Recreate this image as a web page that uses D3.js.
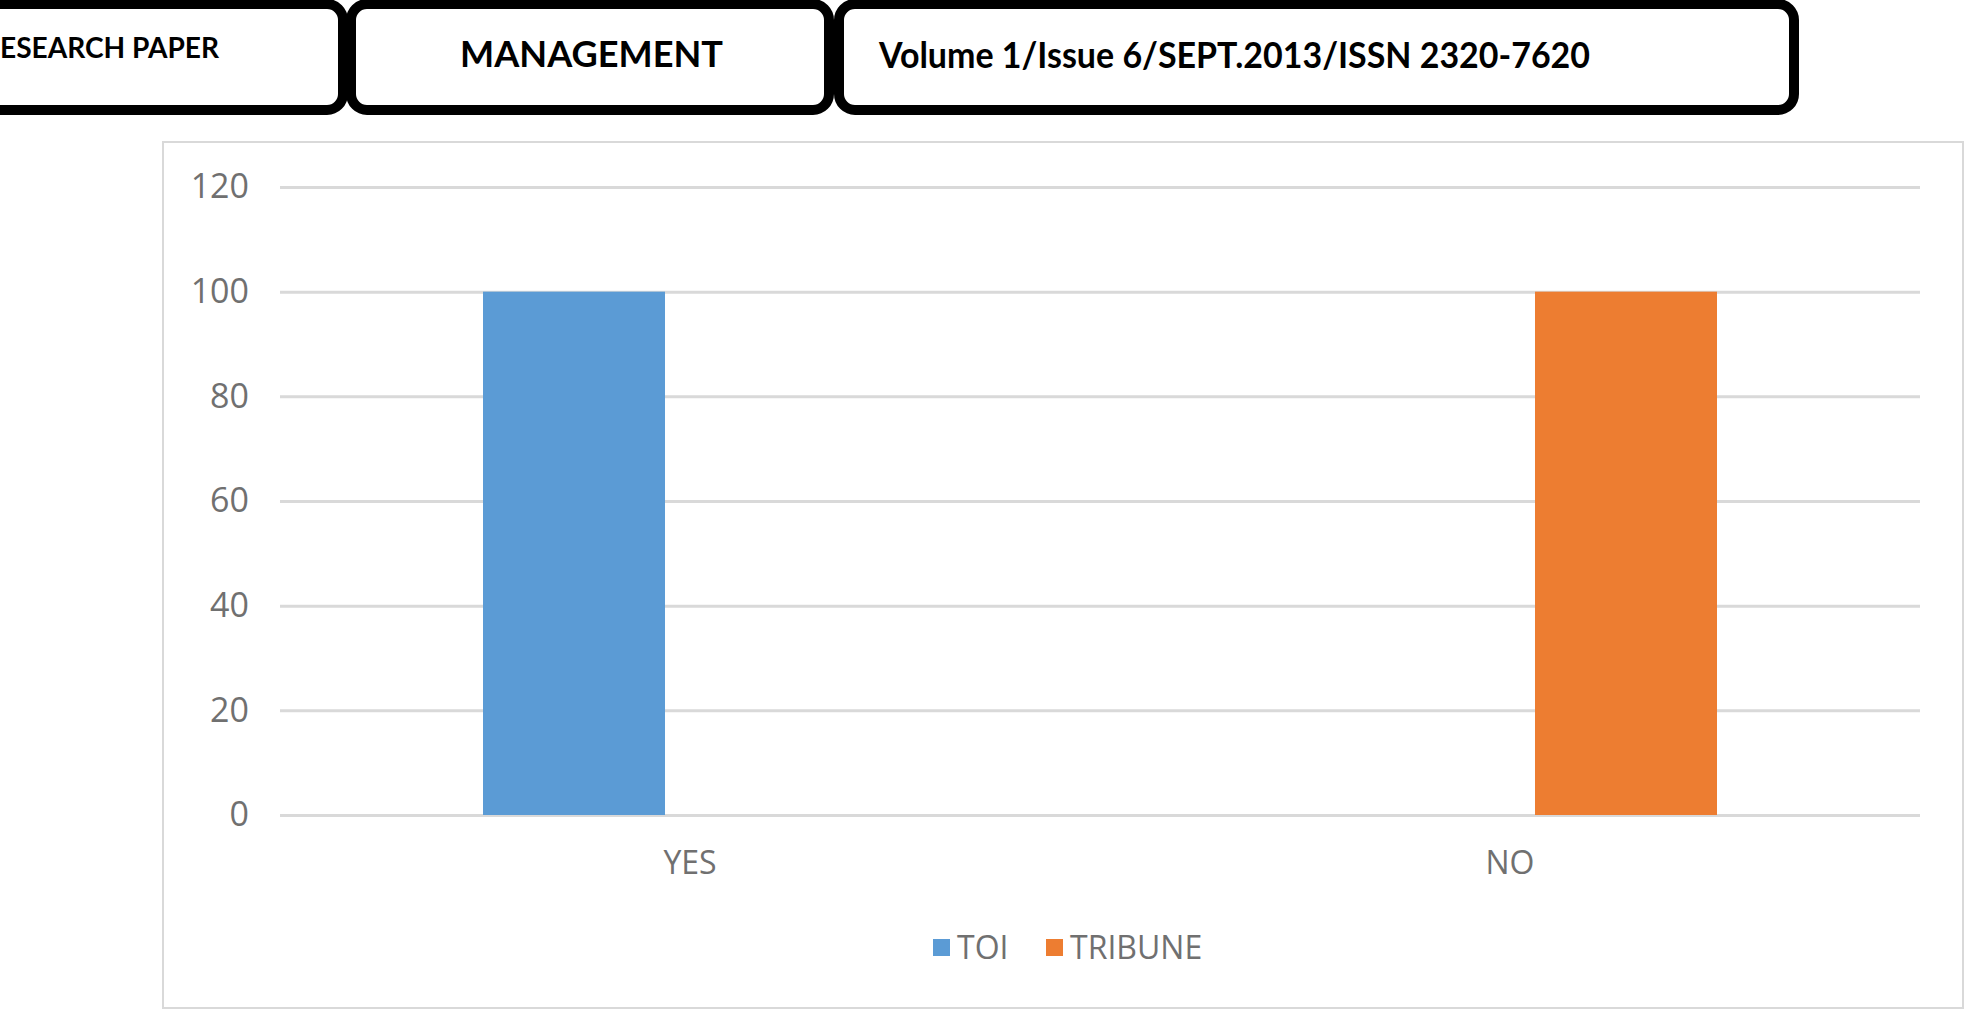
<!DOCTYPE html>
<html>
<head>
<meta charset="utf-8">
<script src="https://cdn.jsdelivr.net/npm/d3@7"></script>
<style>
  html, body { margin: 0; padding: 0; background: #ffffff; }
  svg { display: block; }
</style>
</head>
<body>
<svg id="chart" width="1985" height="1012"></svg>
<script>
// ---- data ----
const categories = ["YES", "NO"];
const seriesNames = ["TOI", "TRIBUNE"];
const toiValues = [100, 0];
const tribuneValues = [0, 100];
const yTicks = [0, 20, 40, 60, 80, 100, 120];
const headerTexts = ["ESEARCH PAPER", "MANAGEMENT", "Volume 1/Issue 6/SEPT.2013/ISSN 2320-7620"];

const colors = { TOI: "#5B9BD5", TRIBUNE: "#ED7D31" };
const seriesValues = { TOI: toiValues, TRIBUNE: tribuneValues };

const svg = d3.select("#chart");

// ---- header boxes ----
const boxes = [
  { x0: -30, x1: 348, text: headerTexts[0], tx: 0, base: 58, size: 28, len: 219 },
  { x0: 346, x1: 834, text: headerTexts[1], tx: 460, base: 67, size: 36, len: 263 },
  { x0: 834, x1: 1799, text: headerTexts[2], tx: 879, base: 68, size: 36, len: 711 }
];
const hb = svg.append("g").attr("class", "header");
boxes.forEach(b => {
  hb.append("rect")
    .attr("x", b.x0 + 5).attr("y", 4)
    .attr("width", b.x1 - b.x0 - 10).attr("height", 106)
    .attr("rx", 16).attr("ry", 16)
    .attr("fill", "#ffffff").attr("stroke", "#000000").attr("stroke-width", 10);
  hb.append("text")
    .attr("x", b.tx).attr("y", b.base)
    .attr("font-family", "Lato, 'Open Sans', sans-serif")
    .attr("font-weight", "bold")
    .attr("font-size", b.size)
    .attr("textLength", b.len)
    .attr("lengthAdjust", "spacingAndGlyphs")
    .attr("fill", "#000000")
    .text(b.text);
});

// ---- chart frame ----
svg.append("rect")
  .attr("x", 163).attr("y", 142)
  .attr("width", 1800).attr("height", 866)
  .attr("fill", "#ffffff").attr("stroke", "#d9d9d9").attr("stroke-width", 2);

const plot = { left: 280, right: 1920, top: 187, bottom: 815 };

const y = d3.scaleLinear().domain([0, 120]).range([plot.bottom, plot.top]);
const x0 = d3.scaleBand().domain(categories).range([plot.left, plot.right]).padding(0);
const x1 = d3.scaleBand().domain(seriesNames).range([0, x0.bandwidth()])
  .paddingInner(0.2155).paddingOuter(0.875);

const font = "'Open Sans', 'Noto Sans', sans-serif";
const textColor = "#707070";

// gridlines
const grid = svg.append("g").attr("class", "grid")
  .attr("transform", `translate(${plot.left},0)`)
  .call(d3.axisLeft(y).tickValues(yTicks).tickSize(-(plot.right - plot.left)).tickFormat(""));
grid.select(".domain").remove();
grid.selectAll(".tick line").attr("stroke", "#d9d9d9").attr("stroke-width", 3);

// y axis labels
const yAxis = svg.append("g").attr("class", "y-axis")
  .attr("transform", `translate(${plot.left},0)`)
  .call(d3.axisLeft(y).tickValues(yTicks).tickSize(0).tickPadding(31));
yAxis.select(".domain").remove();
yAxis.selectAll("text")
  .attr("font-family", font).attr("font-size", 34).attr("fill", textColor);

// bars
const groups = svg.append("g").attr("class", "bars")
  .selectAll("g").data(categories).join("g")
  .attr("transform", d => `translate(${x0(d)},0)`);
groups.selectAll("rect")
  .data((d, i) => seriesNames.map(s => ({ s, v: seriesValues[s][i] })))
  .join("rect")
  .attr("x", d => x1(d.s))
  .attr("width", x1.bandwidth())
  .attr("y", d => y(d.v))
  .attr("height", d => y(0) - y(d.v))
  .attr("fill", d => colors[d.s]);

// x axis labels
const xAxis = svg.append("g").attr("class", "x-axis")
  .attr("transform", `translate(0,${plot.bottom})`)
  .call(d3.axisBottom(x0).tickSize(0).tickPadding(36));
xAxis.select(".domain").remove();
xAxis.selectAll("text")
  .attr("font-family", font).attr("font-size", 32).attr("fill", textColor);

// legend
const legendItems = [
  { name: "TOI", sx: 933, tx: 957 },
  { name: "TRIBUNE", sx: 1046, tx: 1070 }
];
const lg = svg.append("g").attr("class", "legend");
legendItems.forEach(it => {
  lg.append("rect").attr("x", it.sx).attr("y", 939).attr("width", 17).attr("height", 17)
    .attr("fill", colors[it.name]);
  lg.append("text").attr("x", it.tx).attr("y", 959)
    .attr("font-family", font).attr("font-size", 32).attr("fill", textColor)
    .text(it.name);
});
</script>
</body>
</html>
